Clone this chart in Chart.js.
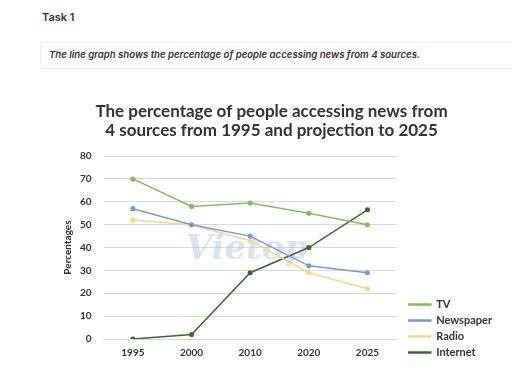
<!DOCTYPE html>
<html>
<head>
<meta charset="utf-8">
<script src="https://cdn.jsdelivr.net/npm/chart.js@4/dist/chart.umd.min.js"></script>
<style>
  body { margin: 0; background: #fff; font-family: Inter, 'Noto Sans', sans-serif; }
  #task { position: absolute; left: 42px; top: 10px; font-size: 11px; font-weight: 600; color: #333; }
  #prompt { position: absolute; left: 40px; top: 42px; width: 480px; height: 27px; border: 1px solid #eee;
    border-radius: 2px; box-sizing: border-box; padding: 6px 8px; font-size: 9.6px; font-style: italic;
    font-weight: 600; color: #333; }
  #wrap { position: absolute; left: 0; top: 92px; width: 512px; height: 282px; }
</style>
</head>
<body>
<div id="task">Task 1</div>
<div id="prompt">The line graph shows the percentage of people accessing news from 4 sources.</div>
<div id="wrap"><canvas id="chart"></canvas></div>
<script>
const years = ['1995', '2000', '2010', '2020', '2025']
const tv = [70, 58, 59.5, 55, 50]
const newspaper = [57, 50, 45, 32, 29]
const radio = [52, 50, 43, 29, 22]
const internet = [0, 2, 29, 40, 56.5]
const yTicks = [0, 10, 20, 30, 40, 50, 60, 70, 80]

const colors = {
  tv: '#82bd55',
  newspaper: '#719cd4',
  radio: '#fbd586',
  internet: '#3d6a2c',
}

function series(label, data, color) {
  return {
    label: label,
    data: data,
    borderColor: color,
    backgroundColor: color,
    borderWidth: 1.5,
    pointRadius: 1.8,
    pointHoverRadius: 2,
    tension: 0,
  }
}

// faint logo behind the lines
const watermark = {
  id: 'watermark',
  beforeDatasetsDraw(chart) {
    const ctx = chart.ctx
    ctx.save()
    ctx.fillStyle = 'rgba(165, 185, 215, 0.4)'
    ctx.font = 'italic bold 34px "DejaVu Serif"'
    ctx.textAlign = 'center'
    ctx.textBaseline = 'middle'
    ctx.fillText('Vietop', 247, chart.scales.y.getPixelForValue(39))
    ctx.restore()
  }
}

// leave a wider gap between the plot and the legend
const legendGap = {
  id: 'legendGap',
  afterLayout(chart) {
    chart.legend.left += 7
    chart.legend.right += 7
    chart.legend.top += 4
    chart.legend.bottom += 4
  }
}

new Chart(document.getElementById('chart'), {
  type: 'line',
  data: {
    labels: years,
    datasets: [
      series('TV', tv, colors.tv),
      series('Newspaper', newspaper, colors.newspaper),
      series('Radio', radio, colors.radio),
      series('Internet', internet, colors.internet),
    ]
  },
  options: {
    responsive: true,
    maintainAspectRatio: false,
    animation: false,
    layout: { padding: { left: 48, right: 17, top: 6, bottom: 15 } },
    plugins: {
      title: {
        display: true,
        text: ['The percentage of people accessing news from', '4 sources from 1995 and projection to 2025'],
        color: '#333',
        font: { family: 'Lato', size: 17, weight: 'bold', lineHeight: 1.12 },
        padding: { top: 4, bottom: 16 },
      },
      legend: {
        position: 'right',
        align: 'end',
        labels: {
          boxWidth: 22,
          boxHeight: 1,
          color: '#333',
          font: { family: 'Lato', size: 11, weight: 'bold' },
          padding: 5,
        }
      },
      tooltip: { enabled: false },
    },
    scales: {
      x: {
        offset: true,
        grid: { display: false },
        border: { color: '#d4d4d4' },
        ticks: { color: '#333', font: { family: 'Lato', size: 10, weight: 'bold', lineHeight: 1 }, padding: 1 },
      },
      y: {
        min: 0,
        max: 80,
        afterBuildTicks: (axis) => { axis.ticks = yTicks.map((v) => ({ value: v })) },
        grid: { color: '#d9d9d9', drawTicks: false },
        border: { display: false },
        ticks: { color: '#333', font: { family: 'Lato', size: 10, weight: 'bold' }, padding: 12 },
        title: {
          display: true,
          text: 'Percentages',
          color: '#333',
          font: { family: 'Lato', size: 10, weight: 'bold' },
          padding: { top: 14, bottom: -6 },
        }
      }
    }
  },
  plugins: [watermark, legendGap]
})
</script>
</body>
</html>
